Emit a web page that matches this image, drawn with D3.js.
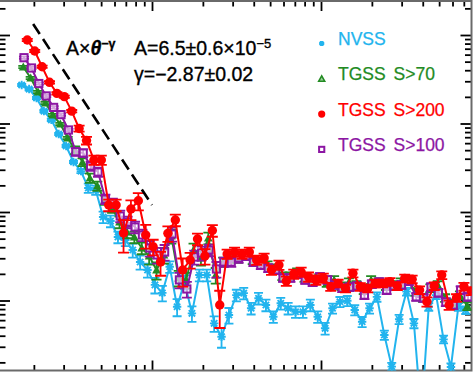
<!DOCTYPE html>
<html><head><meta charset="utf-8">
<script src="https://cdn.jsdelivr.net/npm/d3@7"></script>
<style>html,body{margin:0;padding:0;background:#fff;overflow:hidden}</style>
</head><body><svg id="c" width="474" height="372" xmlns="http://www.w3.org/2000/svg"></svg>
<script>
// ---- data (theta bins, w(theta) per sample, relative 1-sigma errors) ----
const theta = [0.01694,0.01874,0.02073,0.02293,0.02536,0.02805,0.03103,0.03432,0.03796,0.04199,
 0.04645,0.05138,0.05683,0.06286,0.06953,0.07691,0.08507,0.09410,0.1041,0.1151,
 0.1273,0.1408,0.1558,0.1723,0.1906,0.2108,0.2332,0.2579,0.2853,0.3156,
 0.3489,0.3859,0.4269,0.4722,0.5223,0.5778,0.6391,0.7069,0.7819,0.8649,
 0.9563,1.0578,1.1700,1.2942,1.4315,1.5834,1.7514,1.9373,2.1429,2.3703,
 2.6216,2.8998,3.2075,3.5479,3.9244,4.3401,4.8006,5.3100,5.8735,6.4968,7.1846];

const nvss = [0.272,0.245,0.194,0.138,0.110,0.0761,0.0557,0.0367,0.0290,0.0187,
 0.0177,0.00879,0.00791,0.00522,0.00483,0.00372,0.00272,0.00221,0.00150,0.00122,
 0.00241,0.000851,0.00163,0.000716,0.00194,0.00194,0.000552,0.000390,0.000686,0.00115,
 0.00121,0.000817,0.00106,0.000889,0.000656,0.000930,0.000817,0.000747,0.000747,0.000889,
 0.000656,0.000485,0.000817,0.000969,0.000995,0.000782,0.000576,0.000817,0.00110,0.000408,
 0.000179,0.000614,0.00126,0.000552,0.00005,0.000851,0.00115,0.000364,0.000177,0.000851,0.000782];

const tgss70 = [0.435,0.327,0.227,0.171,0.125,0.0987,0.0686,0.0502,0.0367,0.0242,
 0.0197,0.0137,0.0111,0.00771,0.00594,0.00522,0.00392,0.00318,0.00221,0.00327,
 0.00536,0.00180,0.00171,0.00372,0.00302,0.00508,0.00194,0.00272,0.00302,0.00302,
 0.00327,0.00287,0.00272,0.00252,0.00233,0.00189,0.00189,0.00210,0.00180,0.00171,
 0.00180,0.00158,0.00171,0.00146,0.00162,0.00150,0.00131,0.00171,0.00162,0.00146,
 0.00150,0.00162,0.00171,0.00125,0.00107,0.00138,0.00150,0.00107,0.000937,0.00115,0.000867];

const tgss200 = [0.878,0.659,0.438,0.292,0.219,0.201,0.138,0.0878,0.0643,0.0387,
 0.0387,0.0120,0.0120,0.00579,0.0108,0.0134,0.00550,0.00405,0.00272,0.00574,
 0.00812,0.00221,0.00287,0.00495,0.00318,0.00618,0.000889,0.00335,0.00353,0.00335,
 0.00353,0.00287,0.00302,0.00221,0.00252,0.00166,0.00199,0.00210,0.00185,0.00171,
 0.00180,0.00143,0.00156,0.00137,0.00203,0.00143,0.00137,0.00156,0.00156,0.00163,
 0.00146,0.00178,0.00174,0.00131,0.000969,0.00146,0.00194,0.000889,0.00107,0.00144,0.00128];

const tgss100 = [0.554,0.424,0.283,0.205,0.152,0.126,0.0845,0.0480,0.0464,0.0331,
 0.0283,0.0140,0.0126,0.00901,0.00771,0.00677,0.00550,0.00392,0.00327,0.00353,
 0.00564,0.00171,0.00135,0.00310,0.00344,0.00372,0.00227,0.00272,0.00272,0.00302,
 0.00318,0.00272,0.00252,0.00233,0.00221,0.00180,0.00180,0.00199,0.00171,0.00162,
 0.00185,0.00171,0.00150,0.00138,0.00142,0.00146,0.00115,0.00153,0.00162,0.00131,
 0.00146,0.00150,0.00166,0.00110,0.00107,0.00142,0.00122,0.000962,0.000889,0.00131,0.00110];

const errNvss = [0.03,0.03,0.03,0.03,0.03,0.03,0.03,0.03,0.05,0.12,
 0.12,0.15,0.15,0.15,0.15,0.18,0.18,0.18,0.2,0.2,
 0.15,0.22,0.18,0.2,0.15,0.15,0.2,0.25,0.2,0.15,
 0.15,0.15,0.15,0.15,0.15,0.15,0.15,0.15,0.15,0.15,
 0.15,0.15,0.13,0.13,0.13,0.13,0.13,0.13,0.12,0.12,
 0.1,0.12,0.1,0.12,0.1,0.1,0.1,0.1,0.1,0.1,0.1];

const err70 = [0.03,0.03,0.03,0.03,0.03,0.03,0.03,0.1,0.1,0.12,
 0.12,0.12,0.12,0.15,0.15,0.15,0.15,0.2,0.22,0.2,
 0.18,0.2,0.2,0.18,0.18,0.15,0.2,0.12,0.12,0.12,
 0.1,0.1,0.1,0.1,0.1,0.1,0.1,0.1,0.1,0.1,
 0.1,0.1,0.1,0.1,0.1,0.1,0.1,0.1,0.1,0.1,
 0.1,0.1,0.1,0.1,0.1,0.1,0.1,0.1,0.1,0.1,0.1];

const err200 = [0.03,0.03,0.03,0.03,0.03,0.03,0.03,0.08,0.1,0.12,
 0.12,0.15,0.15,0.4,0.25,0.22,0.3,0.2,0.3,0.2,
 0.15,0.35,0.2,0.15,0.2,0.15,0.45,0.12,0.12,0.12,
 0.12,0.12,0.12,0.12,0.12,0.12,0.12,0.12,0.12,0.12,
 0.12,0.1,0.1,0.1,0.1,0.1,0.1,0.1,0.1,0.1,
 0.1,0.1,0.1,0.1,0.12,0.1,0.1,0.12,0.1,0.1,0.1];

const err100 = [0.03,0.03,0.03,0.03,0.03,0.03,0.03,0.1,0.1,0.12,
 0.12,0.12,0.12,0.15,0.15,0.15,0.15,0.2,0.2,0.2,
 0.18,0.2,0.2,0.18,0.18,0.15,0.2,0.12,0.12,0.12,
 0.1,0.1,0.1,0.1,0.1,0.1,0.1,0.1,0.1,0.1,
 0.1,0.1,0.1,0.1,0.1,0.1,0.1,0.1,0.1,0.1,
 0.1,0.1,0.1,0.1,0.1,0.1,0.1,0.1,0.1,0.1,0.1];

// power-law fit line A*theta^-gamma (end points)
const fitTheta = [0.0198, 0.1];
const fitW = [1.33, 0.012];

const legendLabels = ["NVSS", "TGSS S>70", "TGSS S>200", "TGSS S>100"];
const fitLabelSup = "−γ";
const ampLabel = "A=6.5±0.6×10";
const ampLabelSup = "−5";
const gammaLabel = "γ=−2.87±0.02";

// ---- layout ----
const svg = d3.select("#c");
const L = -1, R = 471.5, T = 1, B = 370.5;
const x = d3.scaleLog().domain([0.01, 10]).range([-17, 490]);
const y = d3.scaleLog().domain([1, 0.001]).range([35, 300.5]);

const FONT = "'Liberation Sans', Arial, Helvetica, sans-serif";

svg.append("clipPath").attr("id", "clip").append("rect")
  .attr("x", L).attr("y", T).attr("width", R - L).attr("height", B - T);

// ---- ticks via d3 axes ----
const isMajor = v => Math.abs(Math.log10(v) - Math.round(Math.log10(v))) < 1e-6;
const xAll = d3.scaleLog().domain([0.01, 10]).ticks().filter(v => x(v) > L + 1 && x(v) < R - 1);
const yAll = d3.scaleLog().domain([1e-4, 10]).ticks().filter(v => y(v) > T + 1 && y(v) < B - 1);
const xMaj = xAll.filter(isMajor), xMin = xAll.filter(v => !isMajor(v));
const yMaj = yAll.filter(isMajor), yMin = yAll.filter(v => !isMajor(v));

function addAxis(axis, tx, ty) {
  const g = svg.append("g").attr("transform", `translate(${tx},${ty})`).call(axis);
  g.select(".domain").remove();
  g.selectAll(".tick line").attr("stroke", "#000").attr("stroke-width", 1.8);
  g.selectAll(".tick text").remove();
}
addAxis(d3.axisBottom(x).tickValues(xMin).tickSize(5.5).tickFormat(""), 0, T);
addAxis(d3.axisBottom(x).tickValues(xMaj).tickSize(10).tickFormat(""), 0, T);
addAxis(d3.axisTop(x).tickValues(xMin).tickSize(5.5).tickFormat(""), 0, B);
addAxis(d3.axisTop(x).tickValues(xMaj).tickSize(10).tickFormat(""), 0, B);
addAxis(d3.axisRight(y).tickValues(yMin).tickSize(6.5).tickFormat(""), L, 0);
addAxis(d3.axisRight(y).tickValues(yMaj).tickSize(11).tickFormat(""), L, 0);
addAxis(d3.axisLeft(y).tickValues(yMin).tickSize(6.5).tickFormat(""), R, 0);
addAxis(d3.axisLeft(y).tickValues(yMaj).tickSize(11).tickFormat(""), R, 0);

// frame
svg.append("rect").attr("x", L).attr("y", T).attr("width", R - L).attr("height", B - T)
  .attr("fill", "none").attr("stroke", "#6a6a6a").attr("stroke-width", 2);

// ---- series ----
const COLORS = { nvss: "#22b4ee", g70: "#228b22", r200: "#ff0000", p100: "#8c16a3" };
const series = [
  { vals: nvss, err: errNvss, color: COLORS.nvss, marker: "star", dx: 0, cap: 4.5 },
  { vals: tgss70, err: err70, color: COLORS.g70, marker: "tri", dx: 1.6, cap: 5 },
  { vals: tgss100, err: err100, color: COLORS.p100, marker: "sq", dx: 2.3, cap: 5 },
  { vals: tgss200, err: err200, color: COLORS.r200, marker: "circ", dx: 5.6, cap: 5.5 }
];

const plot = svg.append("g").attr("clip-path", "url(#clip)");

function drawMarker(g, type, color, s) {
  if (type === "star") {
    g.append("path").attr("d",
      `M${-s},0L${s},0M0,${-s}L0,${s}M${-s*0.75},${-s*0.75}L${s*0.75},${s*0.75}M${-s*0.75},${s*0.75}L${s*0.75},${-s*0.75}`)
      .attr("stroke", color).attr("stroke-width", 1.9).attr("fill", "none");
  } else if (type === "tri") {
    g.append("path").attr("d", `M0,${-s}L${s},${s*0.8}L${-s},${s*0.8}Z`).attr("fill", color);
  } else if (type === "circ") {
    g.append("circle").attr("r", s).attr("fill", color);
  } else if (type === "sq") {
    g.append("rect").attr("x", -s).attr("y", -s).attr("width", 2*s).attr("height", 2*s)
      .attr("fill", "#fff").attr("fill-opacity", 0.6).attr("stroke", color).attr("stroke-width", 2);
  }
}

series.forEach(s => {
  const pts = theta.map((t, i) => ({ t, v: s.vals[i], e: s.err[i] }));
  const px = d => x(d.t) + s.dx;
  const g = plot.append("g");
  g.append("path").datum(pts)
    .attr("d", d3.line().x(px).y(d => y(d.v)))
    .attr("fill", "none").attr("stroke", s.color).attr("stroke-width", 2);
  const eb = g.append("g").attr("stroke", s.color).attr("stroke-width", 1.8);
  pts.forEach(d => {
    const y1 = y(d.v * (1 + d.e)), y2 = y(d.v * (1 - d.e)), xx = px(d);
    eb.append("line").attr("x1", xx).attr("x2", xx).attr("y1", y1).attr("y2", y2);
    eb.append("line").attr("x1", xx - s.cap).attr("x2", xx + s.cap).attr("y1", y1).attr("y2", y1);
    eb.append("line").attr("x1", xx - s.cap).attr("x2", xx + s.cap).attr("y1", y2).attr("y2", y2);
  });
  pts.forEach(d => {
    const mg = g.append("g").attr("transform", `translate(${px(d)},${y(d.v)})`);
    const size = s.marker === "circ" ? 4.7 : s.marker === "sq" ? 3.6 : s.marker === "tri" ? 4.4 : 4.2;
    drawMarker(mg, s.marker, s.color, size);
  });
});

// fit line
plot.append("path").datum(fitTheta.map((t, i) => ({ t, w: fitW[i] })))
  .attr("d", d3.line().x(d => x(d.t)).y(d => y(d.w)))
  .attr("stroke", "#000").attr("stroke-width", 2.6).attr("stroke-dasharray", "12,6").attr("fill", "none");

// ---- annotations ----
const ann = svg.append("g").attr("font-family", FONT).attr("fill", "#000").attr("font-size", 19.5)
  .attr("stroke", "#000").attr("stroke-width", 0.35);
const t1 = ann.append("text").attr("x", 66).attr("y", 54.5);
t1.append("tspan").text("A×");
t1.append("tspan").attr("font-style", "italic").attr("font-weight", "bold").text("θ");
t1.append("tspan").attr("font-size", 12.5).attr("dy", -7).attr("font-weight", "bold").text(fitLabelSup);
const t2 = ann.append("text").attr("x", 134).attr("y", 54.5);
t2.append("tspan").text(ampLabel);
t2.append("tspan").attr("font-size", 13).attr("dy", -7).text(ampLabelSup);
ann.append("text").attr("x", 134).attr("y", 80.5).text(gammaLabel);

// ---- legend ----
const leg = svg.append("g").attr("font-family", FONT).attr("font-size", 17.5);
const legColors = [COLORS.nvss, COLORS.g70, COLORS.r200, COLORS.p100];
const legMarkers = ["star", "tri", "circ", "sq"];
const legSizes = [2.6, 3.0, 3.6, 2.6];
legendLabels.forEach((lab, i) => {
  const by = 45 + i * 35.3;
  leg.append("text").attr("x", 338).attr("y", by).attr("fill", legColors[i])
    .attr("stroke", legColors[i]).attr("stroke-width", 0.25)
    .attr("word-spacing", 3).text(lab);
  const mg = leg.append("g").attr("transform", `translate(321.7,${by - 1.5})`);
  if (legMarkers[i] === "tri") {
    mg.append("path").attr("d", "M0,-3L3,2.4L-3,2.4Z").attr("fill", "#9fd09f")
      .attr("stroke", legColors[i]).attr("stroke-width", 1.6);
  } else {
    drawMarker(mg, legMarkers[i], legColors[i], legSizes[i]);
  }
});
</script></body></html>
